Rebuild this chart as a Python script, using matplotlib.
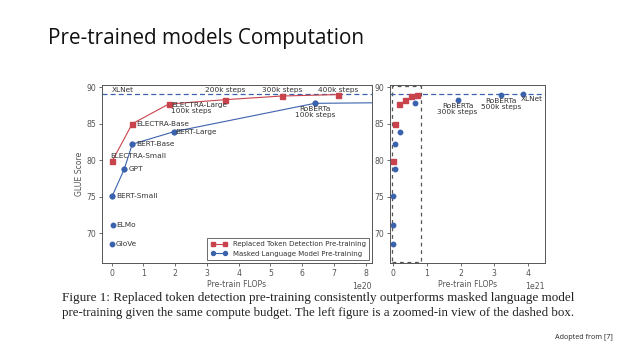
import matplotlib.pyplot as plt
from matplotlib.patches import Rectangle
import numpy as np

# ELECTRA (replaced token detection), FLOPs in units of 1e20
electra_names = ['ELECTRA-Small', 'ELECTRA-Base', 'ELECTRA-Large\n100k steps',
                 '200k steps', '300k steps', '400k steps']
electra_flops = np.array([0.02, 0.65, 1.8, 3.57, 5.36, 7.13])
electra_glue = np.array([79.9, 85.0, 87.7, 88.3, 88.8, 89.0])

# masked language model pre-training, FLOPs in units of 1e20
mlm_names = ['GloVe', 'ELMo', 'BERT-Small', 'GPT', 'BERT-Base', 'BERT-Large',
             'RoBERTa\n100k steps', 'RoBERTa\n300k steps', 'RoBERTa\n500k steps', 'XLNet']
mlm_flops = np.array([0.0, 0.03, 0.02, 0.4, 0.65, 1.95, 6.4, 19.1, 32.0, 38.6])
mlm_glue = np.array([68.5, 71.1, 75.1, 78.8, 82.2, 83.9, 87.8, 88.3, 88.9, 89.1])
mlm_line = [2, 3, 4, 5, 6, 7, 8]   # points joined by the blue line

xlnet_glue = 89.1

red = '#c9434c'
blue = '#3b63ad'
grey = '#555555'

fig = plt.figure(figsize=(6.38, 3.59), dpi=100)
fig.patch.set_facecolor('white')

ax1 = fig.add_axes([0.160, 0.267, 0.423, 0.496])
ax2 = fig.add_axes([0.611, 0.267, 0.243, 0.496])

fs = 5.6
afs = 5.3

# left: zoomed-in view
ax1.axhline(xlnet_glue, color=blue, ls=(0, (4, 2.5)), lw=0.9)
ax1.plot(electra_flops * 1e20, electra_glue, color=red, marker='s', ms=3.6, lw=0.8,
         label='Replaced Token Detection Pre-training')
ax1.plot(mlm_flops[mlm_line] * 1e20, mlm_glue[mlm_line], color=blue, lw=0.8,
         marker='o', ms=3.2, label='Masked Language Model Pre-training')
ax1.plot(mlm_flops * 1e20, mlm_glue, color=blue, ls='none', marker='o', ms=3.2)

txt = dict(fontsize=afs, color='#333333')
ax1.text(0.0, 89.2, 'XLNet', ha='left', va='bottom', **txt)
for i in (3, 4, 5):
    ax1.text(electra_flops[i] * 1e20, 89.2, electra_names[i], ha='center', va='bottom', **txt)
ax1.text(electra_flops[2] * 1e20 + 0.08e20, 88.05, electra_names[2], ha='left', va='top',
         linespacing=1.0, **txt)
ax1.text(0.78e20, electra_glue[1], electra_names[1], ha='left', va='center', **txt)
ax1.text(-0.04e20, 80.6, electra_names[0], ha='left', va='center', **txt)
ax1.text(0.78e20, mlm_glue[4], mlm_names[4], ha='left', va='center', **txt)
ax1.text(2.02e20, mlm_glue[5], mlm_names[5], ha='left', va='center', **txt)
ax1.text(0.54e20, mlm_glue[3], mlm_names[3], ha='left', va='center', **txt)
for i in (0, 1, 2):
    ax1.text(0.14e20, mlm_glue[i], mlm_names[i], ha='left', va='center', **txt)
ax1.text(mlm_flops[6] * 1e20, 87.5, mlm_names[6], ha='center', va='top',
         linespacing=1.0, **txt)

ax1.set_xlim(-0.3e20, 8.2e20)
ax1.set_ylim(65.9, 90.3)
ax1.set_xticks(np.arange(0, 9) * 1e20)
ax1.set_yticks([70, 75, 80, 85, 90])
ax1.set_ylabel('GLUE Score', fontsize=fs, color=grey, labelpad=2)
ax1.set_xlabel('Pre-train FLOPs', fontsize=fs, color=grey, labelpad=2)
leg = ax1.legend(loc='lower right', fontsize=5.0, numpoints=2, frameon=True,
                 fancybox=False, edgecolor='#444444', borderpad=0.5, handlelength=2.4,
                 markerscale=0.9, borderaxespad=0.4)
leg.get_frame().set_linewidth(0.7)
for t in leg.get_texts():
    t.set_color('#333333')

# right: full view
ax2.axhline(xlnet_glue, color=blue, ls=(0, (4, 2.5)), lw=0.9)
ax2.plot(electra_flops * 1e20, electra_glue, color=red, marker='s', ms=3.6, ls='none')
ax2.plot(mlm_flops * 1e20, mlm_glue, color=blue, marker='o', ms=3.2, ls='none')
ax2.add_patch(Rectangle((-0.03e21, 66.0), 0.85e21, 24.2, fill=False, ec='#555555',
                        ls=(0, (3, 3)), lw=0.9))
ax2.text(mlm_flops[7] * 1e20, 87.9, mlm_names[7], ha='center', va='top', linespacing=1.0, **txt)
ax2.text(mlm_flops[8] * 1e20, 88.5, mlm_names[8], ha='center', va='top', linespacing=1.0, **txt)
ax2.text(3.79e21, 88.4, mlm_names[9], ha='left', va='center', **txt)
ax2.set_xlim(-0.1e21, 4.5e21)
ax2.set_ylim(65.9, 90.3)
ax2.set_xticks(np.arange(0, 5) * 1e21)
ax2.set_yticks([70, 75, 80, 85, 90])
ax2.set_xlabel('Pre-train FLOPs', fontsize=fs, color=grey, labelpad=2)

for ax in (ax1, ax2):
    for s in ax.spines.values():
        s.set_color('#555555')
        s.set_linewidth(0.7)
    ax.tick_params(labelsize=fs, colors=grey, length=2.5, width=0.6, pad=1.5)
    ax.xaxis.get_offset_text().set_fontsize(fs)
    ax.xaxis.get_offset_text().set_color(grey)

# slide text
fig.text(0.075, 0.894, 'Pre-trained models Computation', fontsize=14.9,
         family='Open Sans', ha='left', va='center', color='#111111')
fig.text(0.097, 0.170, 'Figure 1: Replaced token detection pre-training consistently '
         'outperforms masked language model', fontsize=9.47, family='Liberation Serif',
         ha='left', va='center', color='#222222')
fig.text(0.097, 0.128, 'pre-training given the same compute budget. The left figure is a '
         'zoomed-in view of the dashed box.', fontsize=9.28, family='Liberation Serif',
         ha='left', va='center', color='#222222')
fig.text(0.870, 0.061, 'Adopted from [7]', fontsize=5.2, family='Noto Sans',
         ha='left', va='center', color='#333333')

fig.savefig('out.png', dpi=100)
